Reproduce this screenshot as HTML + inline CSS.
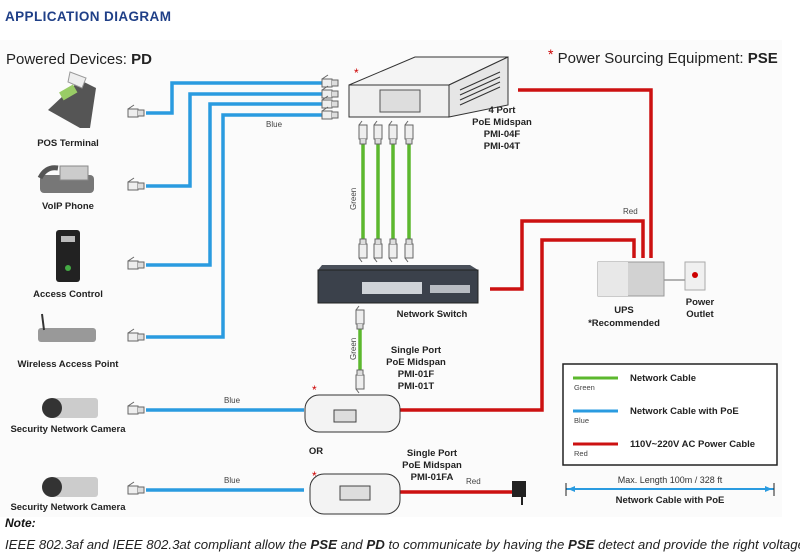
<!DOCTYPE html>
<html><head><meta charset="utf-8"><style>
html,body{margin:0;padding:0;background:#fff;}
body{width:800px;height:559px;overflow:hidden;position:relative;font-family:"Liberation Sans",sans-serif;}
svg{position:absolute;left:0;top:0;}
</style></head><body>
<svg width="800" height="559" viewBox="0 0 800 559" font-family="Liberation Sans, sans-serif">
<defs>
<g id="plugL"><path d="M0,-4 h10 v8 h-10 z" fill="#eee" stroke="#666" stroke-width="1"/><path d="M10,-3 h6 v6 h-6" fill="#ddd" stroke="#666"/><path d="M0,-4 l6,-4" stroke="#666" fill="none"/></g>
<g id="plugV"><path d="M-4,0 v14 h8 v-14 z" fill="#eee" stroke="#666"/><path d="M-3,14 v5 h6 v-5" fill="#ddd" stroke="#666"/><path d="M-4,0 l3,-4" stroke="#666" fill="none"/></g>
</defs>
<rect x="0" y="40" width="782" height="477" fill="#fbfbfb"/>
<text x="5" y="21" font-size="13.5" font-weight="bold" fill="#1f3f87" letter-spacing="0.4">APPLICATION DIAGRAM</text>
<text x="6" y="64" font-size="15" fill="#222">Powered Devices: <tspan font-weight="bold">PD</tspan></text>
<text x="548" y="63" font-size="15" fill="#222"><tspan fill="#c00" font-size="14" dy="-4">*</tspan><tspan dy="4"> Power Sourcing Equipment: </tspan><tspan font-weight="bold">PSE</tspan></text>

<g stroke="#2a9be0" stroke-width="3.5" fill="none">
<polyline points="146,113 172,113 172,83 322,83"/>
<polyline points="146,186 190,186 190,94 322,94"/>
<polyline points="146,265 210,265 210,104 322,104"/>
<polyline points="146,337 223,337 223,115 322,115"/>
<line x1="146" y1="410" x2="304" y2="410"/>
<line x1="146" y1="490" x2="304" y2="490"/>
</g>
<text x="266" y="127" font-size="8" fill="#444">Blue</text>
<text x="224" y="403" font-size="8" fill="#444">Blue</text>
<text x="224" y="483" font-size="8" fill="#444">Blue</text>
<g>
<use href="#plugL" x="128" y="113"/><use href="#plugL" x="128" y="186"/><use href="#plugL" x="128" y="265"/><use href="#plugL" x="128" y="337"/><use href="#plugL" x="128" y="410"/><use href="#plugL" x="128" y="490"/>
<use href="#plugL" x="322" y="83"/><use href="#plugL" x="322" y="94"/><use href="#plugL" x="322" y="104"/><use href="#plugL" x="322" y="115"/>
</g>

<g stroke="#cc1111" stroke-width="3.5" fill="none">
<polyline points="518,90 651,90 651,258"/>
<polyline points="490,289 522,289 522,221 643,221 643,258"/>
<polyline points="400,410 542,410 542,240 634,240 634,258"/>
<line x1="400" y1="492" x2="512" y2="492"/>
</g>
<text x="623" y="214" font-size="8" fill="#444">Red</text>
<text x="466" y="484" font-size="8" fill="#444">Red</text>
<rect x="512" y="481" width="14" height="16" fill="#222"/><line x1="522" y1="497" x2="522" y2="505" stroke="#222" stroke-width="2"/>

<g stroke="#5cb82e" stroke-width="3.5"><line x1="363" y1="135" x2="363" y2="245"/><line x1="378" y1="135" x2="378" y2="245"/><line x1="393" y1="135" x2="393" y2="245"/><line x1="409" y1="135" x2="409" y2="245"/><line x1="360" y1="320" x2="360" y2="372"/></g>
<g><use href="#plugV" x="363" y="125"/><use href="#plugV" x="378" y="125"/><use href="#plugV" x="393" y="125"/><use href="#plugV" x="409" y="125"/>
<g transform="translate(0,383) scale(1,-1)"><use href="#plugV" x="363" y="125"/><use href="#plugV" x="378" y="125"/><use href="#plugV" x="393" y="125"/><use href="#plugV" x="409" y="125"/></g>
<use href="#plugV" x="360" y="310"/><g transform="translate(0,764) scale(1,-1)"><use href="#plugV" x="360" y="375"/></g></g>
<text x="0" y="0" font-size="8" fill="#444" transform="translate(356,210) rotate(-90)">Green</text>
<text x="0" y="0" font-size="8" fill="#444" transform="translate(356,360) rotate(-90)">Green</text>

<polygon points="349,85 415,57 508,57 449,85" fill="#f4f4f4" stroke="#333"/>
<polygon points="449,85 508,57 508,105 449,117" fill="#e6e6e6" stroke="#333"/>
<rect x="349" y="85" width="100" height="32" fill="#f0f0f0" stroke="#333"/>
<rect x="380" y="90" width="40" height="22" fill="#ddd" stroke="#555"/>
<g stroke="#333" stroke-width="1">
<line x1="460" y1="90" x2="500" y2="72"/><line x1="460" y1="95" x2="500" y2="77"/><line x1="460" y1="100" x2="500" y2="82"/><line x1="460" y1="105" x2="500" y2="87"/></g>
<text x="354" y="77" font-size="12" fill="#c00">*</text>
<g font-size="9.5" font-weight="bold" fill="#222" text-anchor="middle">
<text x="502" y="113">4 Port</text><text x="502" y="125">PoE Midspan</text><text x="502" y="137">PMI-04F</text><text x="502" y="149">PMI-04T</text>
<text x="432" y="317">Network Switch</text>
<text x="416" y="353">Single Port</text><text x="416" y="365">PoE Midspan</text><text x="416" y="377">PMI-01F</text><text x="416" y="389">PMI-01T</text>
<text x="432" y="456">Single Port</text><text x="432" y="468">PoE Midspan</text><text x="432" y="480">PMI-01FA</text>
<text x="316" y="454">OR</text>
<text x="624" y="313">UPS</text><text x="624" y="326">*Recommended</text>
<text x="700" y="305">Power</text><text x="700" y="317">Outlet</text>
<text x="68" y="146">POS Terminal</text><text x="68" y="209">VoIP Phone</text><text x="68" y="297">Access Control</text>
<text x="68" y="367">Wireless Access Point</text><text x="68" y="432">Security Network Camera</text><text x="68" y="510">Security Network Camera</text>
</g>

<polygon points="322,265 470,265 478,270 318,270" fill="#4a505a"/>
<rect x="318" y="270" width="160" height="33" fill="#3b414b" stroke="#222"/>
<rect x="362" y="282" width="60" height="12" fill="#cfd3d8"/>
<rect x="430" y="285" width="40" height="8" fill="#b8bcc2"/>

<rect x="305" y="395" width="95" height="37" rx="14" fill="#f3f3f3" stroke="#333"/>
<rect x="334" y="410" width="22" height="12" fill="#ddd" stroke="#444"/>
<text x="312" y="394" font-size="12" fill="#c00">*</text>
<rect x="310" y="474" width="90" height="40" rx="14" fill="#f3f3f3" stroke="#333"/>
<rect x="340" y="486" width="30" height="14" fill="#ddd" stroke="#444"/>
<text x="312" y="480" font-size="12" fill="#c00">*</text>

<rect x="598" y="262" width="66" height="34" fill="#d2d2d2" stroke="#999"/>
<rect x="598" y="262" width="30" height="34" fill="#e8e8e8"/>
<rect x="685" y="262" width="20" height="28" fill="#f0f0f0" stroke="#aaa"/>
<circle cx="695" cy="275" r="3" fill="#c00"/>
<line x1="664" y1="280" x2="685" y2="280" stroke="#999" stroke-width="1.5"/>

<g>
<path d="M48,110 l32,-30 l16,8 l-6,40 l-10,0 z" fill="#555"/><path d="M70,72 l16,6 l-4,10 l-14,-6 z" fill="#eee" stroke="#999"/><rect x="60" y="88" width="16" height="9" fill="#9c6" transform="rotate(-30 68 92)"/>
<rect x="40" y="175" width="54" height="18" rx="4" fill="#777"/><rect x="60" y="166" width="28" height="14" fill="#ccc" stroke="#888"/><path d="M40,178 q6,-12 18,-10" stroke="#555" stroke-width="5" fill="none"/>
<rect x="56" y="230" width="24" height="52" rx="3" fill="#222"/><rect x="61" y="236" width="14" height="6" fill="#bbb"/><circle cx="68" cy="268" r="3" fill="#4a4"/>
<rect x="38" y="328" width="58" height="14" rx="3" fill="#999"/><line x1="44" y1="330" x2="42" y2="314" stroke="#333" stroke-width="2"/>
<rect x="50" y="398" width="48" height="20" rx="3" fill="#ccc"/><circle cx="52" cy="408" r="10" fill="#333"/>
<rect x="50" y="477" width="48" height="20" rx="3" fill="#ccc"/><circle cx="52" cy="487" r="10" fill="#333"/>
</g>

<rect x="563" y="364" width="214" height="101" fill="#fff" stroke="#222" stroke-width="1.5"/>
<line x1="573" y1="378" x2="618" y2="378" stroke="#5cb82e" stroke-width="3"/>
<line x1="573" y1="411" x2="618" y2="411" stroke="#2a9be0" stroke-width="3"/>
<line x1="573" y1="444" x2="618" y2="444" stroke="#cc1111" stroke-width="3"/>
<g font-size="7.5" fill="#444"><text x="574" y="390">Green</text><text x="574" y="423">Blue</text><text x="574" y="456">Red</text></g>
<g font-size="9.5" font-weight="bold" fill="#222"><text x="630" y="381">Network Cable</text><text x="630" y="414">Network Cable with PoE</text><text x="630" y="447">110V~220V AC Power Cable</text></g>
<text x="670" y="483" font-size="9" fill="#333" text-anchor="middle">Max. Length 100m / 328 ft</text>
<line x1="566" y1="489" x2="774" y2="489" stroke="#2a9be0" stroke-width="2"/>
<line x1="566" y1="483" x2="566" y2="496" stroke="#222"/><line x1="774" y1="483" x2="774" y2="496" stroke="#222"/>
<polygon points="568,489 575,486 575,492" fill="#2a9be0"/><polygon points="772,489 765,486 765,492" fill="#2a9be0"/>
<text x="670" y="503" font-size="9.5" font-weight="bold" fill="#222" text-anchor="middle">Network Cable with PoE</text>

<text x="5" y="527" font-size="12" font-weight="bold" font-style="italic" fill="#111">Note:</text>
<text x="5" y="549" font-size="12.5" font-style="italic" fill="#222" textLength="800" lengthAdjust="spacingAndGlyphs">IEEE 802.3af and IEEE 802.3at compliant allow the <tspan font-weight="bold">PSE</tspan> and <tspan font-weight="bold">PD</tspan> to communicate by having the <tspan font-weight="bold">PSE</tspan> detect and provide the right voltage</text>
</svg>
</body></html>
